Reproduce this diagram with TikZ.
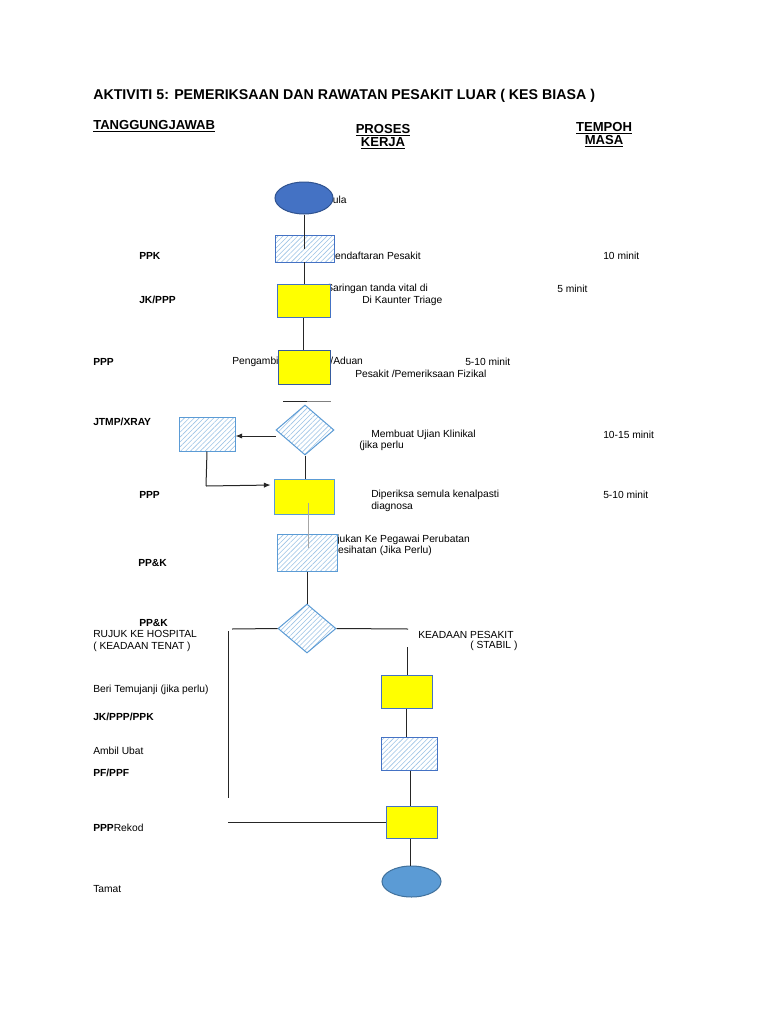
\documentclass[tikz,border=0pt]{standalone}
\usepackage{fontspec}
\setmainfont{Liberation Sans}
\usetikzlibrary{shapes.geometric,patterns.meta,arrows.meta}
\definecolor{dblue}{HTML}{4472C4}
\definecolor{dblueb}{HTML}{2F528F}
\definecolor{mblue}{HTML}{5B9BD5}
\definecolor{mblueb}{HTML}{41719C}
\definecolor{hatchc}{HTML}{9DC3E6}
\definecolor{ybox}{HTML}{FFFF00}
\begin{document}
\begin{tikzpicture}[x=0.75pt,y=-0.75pt,
  txt/.style={anchor=west,inner sep=0pt,font=\fontsize{7.7}{9.4}\selectfont,text=black,align=left},
  lbl/.style={txt,font=\bfseries\fontsize{7.7}{9.4}\selectfont},
  head/.style={inner sep=0pt,font=\bfseries\fontsize{9.8}{9.8}\selectfont,text=black},
  sz/.style 2 args={minimum width=#1*0.75pt,minimum height=#2*0.75pt},
  ybox/.style={draw=dblue,line width=0.75pt,fill=ybox,inner sep=0pt},
  hbox/.style={draw=dblue,line width=0.75pt,preaction={fill=white},
    pattern={Lines[angle=45,distance=2.6pt,line width=0.45pt]},pattern color=hatchc,inner sep=0pt},
  dia/.style={shape=diamond,draw=mblue,line width=0.75pt,preaction={fill=white},
    pattern={Lines[angle=45,distance=2.6pt,line width=0.45pt]},pattern color=hatchc,inner sep=0pt},
  term/.style={shape=ellipse,line width=0.75pt,inner sep=0pt},
  conn/.style={draw=black!85,line width=0.75pt},
  arr/.style={conn,-{Latex[length=5pt,width=4pt]}}
]
\useasboundingbox (0,0) rectangle (768,1024);
\fill[white] (0,0) rectangle (768,1024);

% headings
\node[head,anchor=west,font=\bfseries\fontsize{10.65}{11}\selectfont] (title) at (93,96) {AKTIVITI 5: PEMERIKSAAN DAN RAWATAN PESAKIT LUAR ( KES BIASA )};
\node[head,anchor=west] (hTJ) at (93,126) {\underline{TANGGUNGJAWAB}};
\node[head,align=center] (hPK) at (383,136.5) {\underline{PROSES}\\\underline{KERJA}};
\node[head,align=center] (hTM) at (604,135) {\underline{TEMPOH}\\\underline{MASA}};

% texts (drawn before shapes so the shapes cover them)
\node[txt] (tMula) at (324,200) {Mula};
\node[txt] (tDaftar) at (328,256) {Pendaftaran Pesakit};
\node[lbl] (lPPK) at (139,256) {PPK};
\node[txt] (m10) at (603,256) {10 minit};
\node[txt] (tSaring) at (326,289) {Saringan tanda vital di};
\node[txt] (tKaunter) at (362,301) {Di Kaunter Triage};
\node[lbl] (lJK) at (139,300) {JK/PPP};
\node[txt] (m5) at (557,289) {5 minit};
\node[lbl] (lPPP1) at (93,362) {PPP};
\node[txt] (tAmbil) at (232,362) {Pengambilan Sejarah/Aduan};
\node[txt] (tFiz) at (355,374) {Pesakit /Pemeriksaan Fizikal};
\node[txt] (m510a) at (465,362) {5-10 minit};
\node[lbl] (lJTMP) at (93,422) {JTMP/XRAY};
\node[txt] (tUjian) at (371,435) {Membuat Ujian Klinikal};
\node[txt] (tJika) at (359,446) {(jika perlu};
\node[txt] (m1015) at (603,435) {10-15 minit};
\node[lbl] (lPPP2) at (139,495) {PPP};
\node[txt] (tDiperiksa) at (371,501) {Diperiksa semula kenalpasti\\diagnosa};
\node[txt] (m510b) at (603,495) {5-10 minit};
\node[txt] (tRujuk1) at (324,540) {Rujukan Ke Pegawai Perubatan};
\node[txt] (tRujuk2) at (331,551) {Kesihatan (Jika Perlu)};
\node[lbl] (lPPK1) at (138,563) {PP\&K};
\node[lbl] (lPPK2) at (139,623) {PP\&K};
\node[txt] (tHosp) at (93,641) {RUJUK KE HOSPITAL\\( KEADAAN TENAT )};
\node[txt] (tKead) at (418,635) {KEADAAN PESAKIT};
\node[txt] (tStabil) at (470,646) {( STABIL )};
\node[txt] (tTemu) at (93,690) {Beri Temujanji (jika perlu)};
\node[lbl] (lJK2) at (93,717) {JK/PPP/PPK};
\node[txt] (tUbat) at (93,751) {Ambil Ubat};
\node[lbl] (lPF) at (93,773) {PF/PPF};
\node[txt] (tRekod) at (93,828) {\textbf{PPP}Rekod};
\node[txt] (tTamat) at (93,889) {Tamat};

% shapes
\node[term,draw=dblueb,fill=dblue,sz={58}{32}] (start) at (304,198) {};
\node[hbox,sz={59}{27}] (b1) at (304.5,248.5) {};
\node[ybox,sz={53}{33}] (b2) at (303.5,300.5) {};
\node[ybox,draw=dblue!80!black,sz={52}{34}] (b3) at (304,367) {};
\node[dia,minimum width=58*0.75pt,minimum height=50*0.75pt] (d1) at (305,430) {};
\node[hbox,draw=mblue,sz={56}{34}] (jtmp) at (207,434) {};
\node[ybox,draw=mblue,sz={60}{35}] (b4) at (304,496.5) {};
\node[hbox,draw=mblue,sz={60}{37}] (b5) at (307,552.5) {};
\node[dia,minimum width=58*0.75pt,minimum height=49*0.75pt] (d2) at (307,628.5) {};
\node[ybox,sz={51}{33}] (b6) at (406.5,691.5) {};
\node[hbox,sz={56}{33}] (b7) at (409,753.5) {};
\node[ybox,sz={51}{32}] (b8) at (411.5,822) {};
\node[term,draw=mblueb,fill=mblue,sz={59}{31}] (fin) at (411.5,881.5) {};

% free ends
\coordinate (dashL) at (283,401);
\coordinate (dashM) at (307,401);
\coordinate (dashR) at (331,401);
\coordinate (d2L) at (232,629);
\coordinate (d2R) at (408,629);
\coordinate (vTop) at (228,631);
\coordinate (vBot) at (228,798);
\coordinate (kTop) at (407,647);
\coordinate (rekL) at (228,822);
\coordinate (jtBend) at (206,486);

% connectors
\draw[conn] (start.south) -- (start.south |- b1.center);
\draw[conn] (b1.south) -- (b1.south |- b2.north);
\draw[conn] (b2.south) -- (b2.south |- b3.north);
\draw[conn] (dashL) -- (dashM);
\draw[conn,draw=black!50] (dashM) -- (dashR);
\draw[arr] ([yshift=-4.5pt]d1.west) -- (jtmp.east |- 0,436);
\draw[conn] (jtmp.south) -- (jtBend);
\draw[arr] (jtBend) -- ([xshift=-2.2pt,yshift=8.6pt]b4.west);
\draw[conn] (d1.south) -- (d1.south |- b4.north);
\draw[conn,draw=black!35] ([xshift=3pt,yshift=9pt]b4.south) -- ([xshift=0.75pt,yshift=-11pt]b5.north);
\draw[conn] (b5.south) -- (b5.south |- d2.north);
\draw[conn] (d2.west) -- (d2L);
\draw[conn] (d2.east) -- (d2R);
\draw[conn] (vTop) -- (vBot);
\draw[conn] (kTop) -- (kTop |- b6.north);
\draw[conn] (b6.south) -- (b6.south |- b7.north);
\draw[conn] ([xshift=1pt]b7.south) -- ([xshift=1pt]b7.south |- b8.north);
\draw[conn] (rekL) -- (b8.west);
\draw[conn] ([xshift=-1pt]b8.south) -- ([xshift=-1pt]b8.south |- fin.north);
\end{tikzpicture}
\end{document}
